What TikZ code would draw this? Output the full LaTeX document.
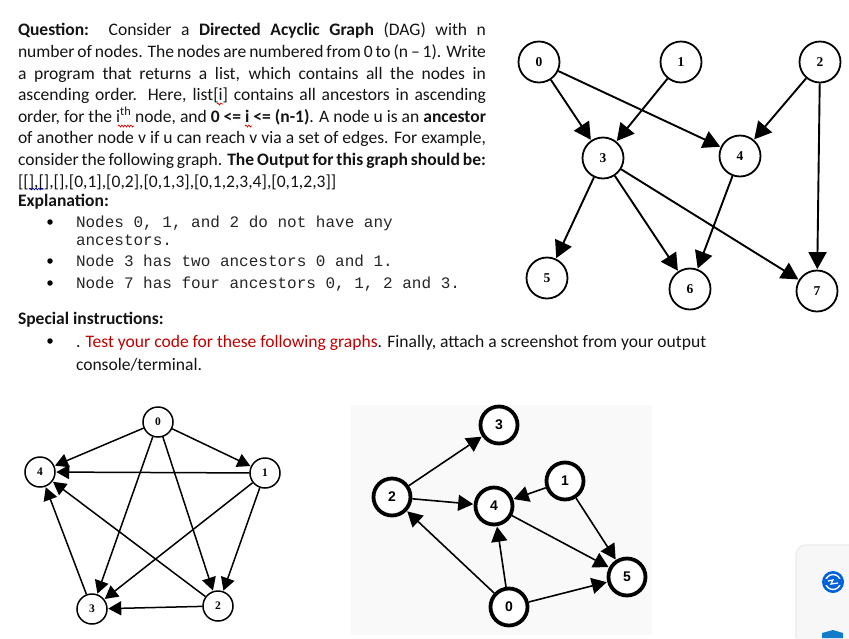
\documentclass[tikz,border=0pt]{standalone}
\usepackage{fontspec}
\setmainfont{Carlito}
\newfontfamily\monof{Liberation Mono}
\newfontfamily\serifb{Liberation Serif}
\newfontfamily\sansb{Liberation Sans}
\usetikzlibrary{arrows.meta,decorations.pathmorphing}
\definecolor{wordred}{HTML}{C00000}
\tikzset{
  x=1pt,y=-1pt,
  txt/.style={anchor=base west,inner sep=0pt,outer sep=0pt,font=\fontsize{17.55}{20}\selectfont,text=black!92},
  mono/.style={anchor=base west,inner sep=0pt,outer sep=0pt,font=\monof\fontsize{16}{18}\selectfont,text=black!85},
  bul/.style={circle,fill=black,inner sep=0pt,minimum size=5.5pt},
  na/.style={circle,draw=black,fill=white,line width=1.8pt,minimum size=41pt,inner sep=0pt,font=\serifb\bfseries\fontsize{13.5}{14}\selectfont},
  nb/.style={circle,draw=black,fill=white,line width=1.5pt,minimum size=30pt,inner sep=0pt,font=\serifb\bfseries\fontsize{11.5}{12}\selectfont},
  nc/.style={circle,draw=black,fill=white,line width=3.8pt,minimum size=37pt,inner sep=0pt,font=\sansb\bfseries\fontsize{14}{15}\selectfont},
  ea/.style={line width=1.9pt,-{Triangle[length=17pt,width=18pt]},shorten >=0.5pt},
  eb/.style={line width=1.5pt,-{Triangle[length=13pt,width=14pt]},shorten >=0.5pt},
  ec/.style={line width=1.6pt,-{Triangle[length=15pt,width=16pt]},shorten >=0.5pt},
  sqr/.style={draw=red!85!black,line width=0.7pt,decorate,decoration={snake,segment length=3pt,amplitude=1pt}},
  sqb/.style={draw=blue!70!black,line width=0.7pt,decorate,decoration={snake,segment length=3pt,amplitude=0.8pt}},
}
\begin{document}
\begin{tikzpicture}
\useasboundingbox (0,0) rectangle (849,638);
\fill[white] (0,0) rectangle (849,638);
% text block
\node[txt] (l1) at (18,35) {\makebox[468pt][s]{\textbf{Question:}\hspace{3pt} Consider a \textbf{Directed Acyclic Graph} (DAG) with n}};
\node[txt] (l2) at (18,57) {\makebox[468pt][s]{number of nodes. The nodes are numbered from 0 to (n\,–\,1). Write}};
\node[txt] (l3) at (18,79) {\makebox[468pt][s]{a program that returns a list, which contains all the nodes in}};
\node[txt] (l4) at (18,100) {\makebox[468pt][s]{ascending order. Here, list[i] contains all ancestors in ascending}};
\node[txt] (l5) at (18,122) {\makebox[468pt][s]{order, for the i\textsuperscript{th} node, and \textbf{0 <= i <= (n-1)}. A node u is an \textbf{ancestor}}};
\node[txt] (l6) at (18,143) {\makebox[468pt][s]{of another node v if u can reach v via a set of edges. For example,}};
\node[txt] (l7) at (18,165) {\makebox[468pt][s]{consider the following graph. \textbf{The Output for this graph should be:}}};
\node[txt] (l8) at (18,187) {[[],[],[],[0,1],[0,2],[0,1,3],[0,1,2,3,4],[0,1,2,3]]};
\node[txt] (l9) at (18,206) {\textbf{Explanation:}};
\node[bul] (b1) at (50,222) {};
\node[mono] (m1) at (76,227) {Nodes 0, 1, and 2 do not have any};
\node[mono] (m2) at (76,245) {ancestors.};
\node[bul] (b2) at (50,261) {};
\node[mono] (m3) at (76,266) {Node 3 has two ancestors 0 and 1.};
\node[bul] (b3) at (50,283) {};
\node[mono] (m4) at (76,288) {Node 7 has four ancestors 0, 1, 2 and 3.};
\node[txt] (s1) at (18,324) {\textbf{Special instructions:}};
\node[bul] (b4) at (50,341) {};
\node[txt] (s2) at (76,347) {. \textcolor{wordred}{Test your code for these following graphs}. Finally, attach a screenshot from your output};
\node[txt] (s3) at (76,370) {console/terminal.};
% proofing marks
\draw[sqr] (217,104) -- (223,104);
\draw[sqr] (118,126) -- (134,126);
\draw[sqr] (245,126) -- (252,126);
\draw[sqb] (29,189) -- (44,189);
% graph A
\node[na] (a0) at (539,62) {0};
\node[na] (a1) at (681,62) {1};
\node[na] (a2) at (820,62) {2};
\node[na] (a3) at (603,158) {3};
\node[na] (a4) at (740,156) {4};
\node[na] (a5) at (547,278) {5};
\node[na] (a6) at (690,289) {6};
\node[na] (a7) at (817,291) {7};
\draw[ea] (a0) -- (a3);
\draw[ea] (a0) -- (a4);
\draw[ea] (a1) -- (a3);
\draw[ea] (a2) -- (a4);
\draw[ea] (a2) -- (a7);
\draw[ea] (a3) -- (a5);
\draw[ea] (a3) -- (a6);
\draw[ea] (a3) -- (a7);
\draw[ea] (a4) -- (a6);
% graph B
\node[nb] (b0n) at (158,422) {0};
\node[nb] (b1n) at (265,473) {1};
\node[nb] (b2n) at (218,606) {2};
\node[nb] (b3n) at (92,609) {3};
\node[nb] (b4n) at (40,472) {4};
\draw[eb] (b0n) -- (b1n);
\draw[eb] (b0n) -- (b2n);
\draw[eb] (b0n) -- (b3n);
\draw[eb] (b0n) -- (b4n);
\draw[eb] (b1n) -- (b2n);
\draw[eb] (b1n) -- (b3n);
\draw[eb] (b1n) -- (b4n);
\draw[eb] (b2n) -- (b3n);
\draw[eb] (b2n) -- (b4n);
\draw[eb] (b3n) -- (b4n);
% graph C
\fill[black!2.5] (351,405) rectangle (652,635);
\node[nc] (c0) at (509,607) {0};
\node[nc] (c1) at (565,481) {1};
\node[nc] (c2) at (392,497) {2};
\node[nc] (c3) at (499,425) {3};
\node[nc] (c4) at (494,506) {4};
\node[nc] (c5) at (627,577) {5};
\draw[ec] (c0) -- (c2);
\draw[ec] (c0) -- (c4);
\draw[ec] (c0) -- (c5);
\draw[ec] (c1) -- (c4);
\draw[ec] (c1) -- (c5);
\draw[ec] (c2) -- (c3);
\draw[ec] (c2) -- (c4);
\draw[ec] (c4) -- (c5);
% side panel
\fill[black!3,rounded corners=10pt] (860,545) -- (796,545) -- (796,650) -- (860,650) -- cycle;
\draw[black!8,line width=1.2pt,rounded corners=10pt] (849,545) -- (796,545) -- (796,638);
\fill[blue!55!cyan!85!black] (833,582) circle[radius=11];
\draw[white,line width=1.4pt] (833,582) circle[radius=7.5];
\fill[blue!55!cyan!85!black] (825,579) rectangle (841,585);
\draw[white,line width=1.3pt] (828,581) -- (833,580) -- (831,584) -- (838,583);
\fill[cyan!60!blue] (822,638) -- (822,633) -- (833,630) -- (843,633) -- (843,638) -- cycle;
\end{tikzpicture}
\end{document}
